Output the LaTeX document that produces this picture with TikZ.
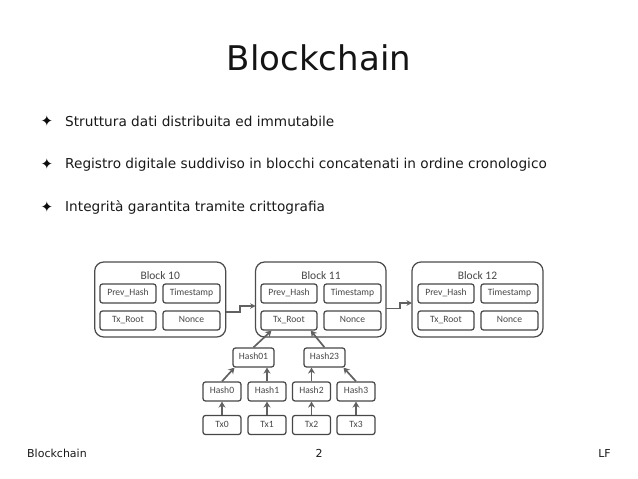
\documentclass[tikz,border=0pt]{standalone}
\usepackage{fontspec}
\setmainfont{DejaVu Sans}
\newfontfamily\diag{Carlito}
\usetikzlibrary{arrows.meta,calc}
\tikzset{
  x=1pt,y=-1pt,
  outer/.style={draw=black!70,line width=1.25pt,rounded corners=9pt,fill=white,inner sep=0pt},
  cell/.style={draw=black!72,line width=1.25pt,rounded corners=2.5pt,fill=white,minimum height=19pt,inner sep=0pt,text height=6.6pt,text depth=2pt,text=black!72,font=\diag\fontsize{9.6}{11}\selectfont},
  btitle/.style={text=black!72,font=\diag\fontsize{11.5}{13}\selectfont,inner sep=0pt},
  link/.style={draw=black!62,line width=1.7pt,-{Stealth[length=6pt,width=7pt]}},
  chain/.style={draw=black!62,line width=1.1pt,-{Stealth[length=5.5pt,width=5.5pt]}},
  bullet/.style={anchor=center,inner sep=0pt,font=\fontsize{15}{17}\selectfont,text=black!95},
  item/.style={anchor=west,inner sep=0pt,font=\fontsize{13.67}{16}\selectfont,text=black!90},
  foot/.style={inner sep=0pt,font=\fontsize{11}{13}\selectfont,text=black!90}
}
\newcommand{\cellat}[4]{\node[cell,minimum width=#4] (#1) at (#2) {#3};}
\begin{document}
\begin{tikzpicture}
\useasboundingbox (0,0) rectangle (638,479);
\node[inner sep=0pt,font=\fontsize{34}{38}\selectfont,text=black!92] (title) at (319,58) {Blockchain};
\node[bullet] (b1) at (47,121) {✦};
\node[item] (t1) at (65,121.5) {Struttura dati distribuita ed immutabile};
\node[bullet] (b2) at (47,164) {✦};
\node[item] (t2) at (65,164.5) {Registro digitale suddiviso in blocchi concatenati in ordine cronologico};
\node[bullet] (b3) at (47,207) {✦};
\node[item] (t3) at (65,207.5) {Integrità garantita tramite crittografia};
% blocks
\node[outer,minimum width=131pt,minimum height=75pt] (B10) at (160.2,299.5) {};
\node[outer,minimum width=130.5pt,minimum height=75pt] (B11) at (320.8,299.5) {};
\node[outer,minimum width=131pt,minimum height=75pt] (B12) at (477.5,299.5) {};
\node[btitle] (T10) at (160.2,276) {Block 10};
\node[btitle] (T11) at (321,276) {Block 11};
\node[btitle] (T12) at (477.5,276) {Block 12};
\cellat{p10}{128,293.5}{Prev\_Hash}{56pt}
\cellat{s10}{191.5,293.5}{Timestamp}{57pt}
\cellat{r10}{128,320.5}{Tx\_Root}{56pt}
\cellat{n10}{191.5,320.5}{Nonce}{57pt}
\cellat{p11}{289,293.5}{Prev\_Hash}{56pt}
\cellat{s11}{352.5,293.5}{Timestamp}{57pt}
\cellat{r11}{289,320.5}{Tx\_Root}{56pt}
\cellat{n11}{352.5,320.5}{Nonce}{57pt}
\cellat{p12}{446,293.5}{Prev\_Hash}{56pt}
\cellat{s12}{509.5,293.5}{Timestamp}{57pt}
\cellat{r12}{446,320.5}{Tx\_Root}{56pt}
\cellat{n12}{509.5,320.5}{Nonce}{57pt}
% tree
\cellat{h01}{253.5,357.5}{Hash01}{41pt}
\cellat{h23}{324.5,357.5}{Hash23}{41pt}
\cellat{h0}{222,391.5}{Hash0}{38pt}
\cellat{h1}{267,391.5}{Hash1}{38pt}
\cellat{h2}{311.5,391.5}{Hash2}{38pt}
\cellat{h3}{356,391.5}{Hash3}{38pt}
\cellat{x0}{222,425}{Tx0}{38pt}
\cellat{x1}{267,425}{Tx1}{38pt}
\cellat{x2}{311.5,425}{Tx2}{38pt}
\cellat{x3}{356,425}{Tx3}{38pt}
% connectors
\draw[link] (x0.north) -- (h0.south);
\draw[link] (x1.north) -- (h1.south);
\draw[link] (x2.north) -- (h2.south);
\draw[link] (x3.north) -- (h3.south);
\draw[link] (h0.north) -- (h01.208);
\draw[link] (h1.north) -- (h1.north |- h01.south);
\draw[link] (h2.north) -- (h2.north |- h23.south);
\draw[link] (h3.north) -- (h23.-28);
\draw[link] (h01.north) -- (r11.210);
\draw[link] (h23.north) -- (r11.-25);
\coordinate (c1s) at (225.7,312);
\coordinate (c1e) at (255.7,306);
\coordinate (c2s) at (386,308.5);
\coordinate (c2e) at (412,303);
\draw[chain] (c1s) -- (240,312) -- (240,306) -- (c1e);
\draw[chain] (c2s) -- (400,308.5) -- (400,303) -- (c2e);
% footer
\node[foot,anchor=west] (f1) at (27,453) {Blockchain};
\node[foot] (f2) at (319,453) {2};
\node[foot,anchor=east] (f3) at (611,453) {LF};
\end{tikzpicture}
\end{document}
